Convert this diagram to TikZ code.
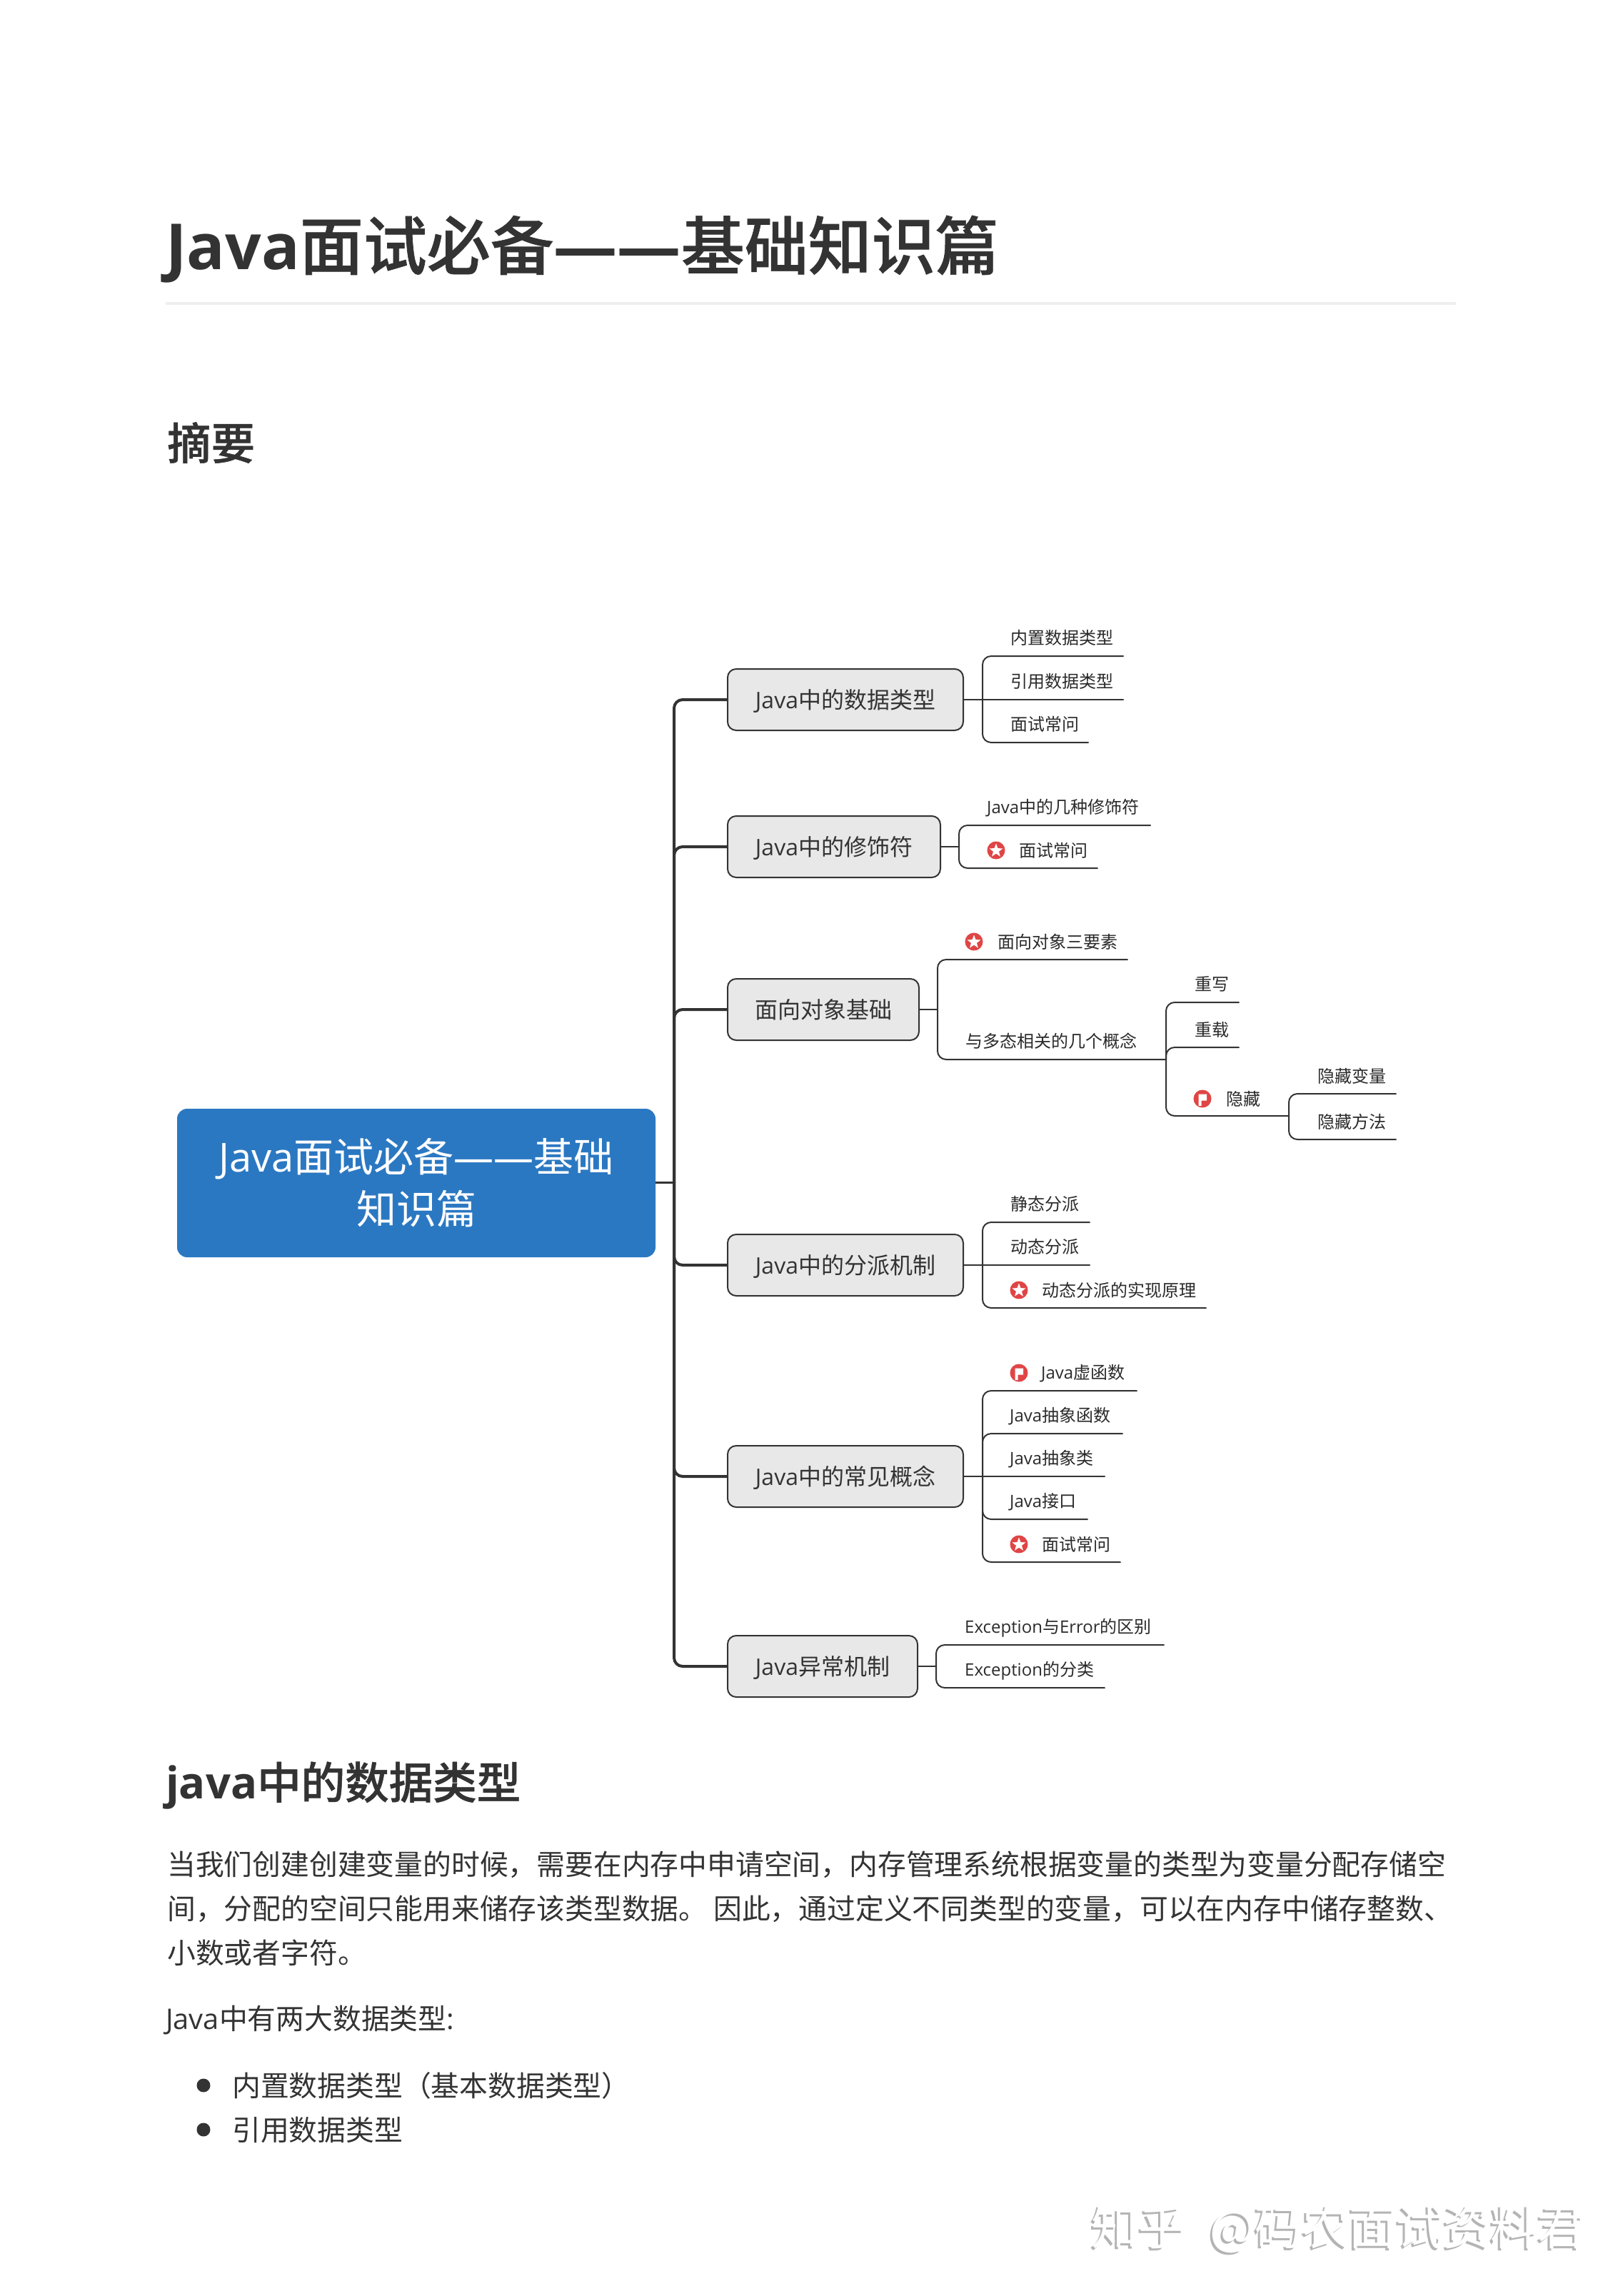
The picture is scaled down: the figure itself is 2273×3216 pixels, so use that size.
\documentclass[tikz,border=0pt]{standalone}
\usepackage{fontspec}
\usetikzlibrary{shapes.geometric}
\setmainfont{Open Sans}
\newfontfamily\cjk{Noto Sans CJK SC}[BoldFont={Noto Sans CJK SC Medium},BoldFeatures={FakeBold=0.8}]
\newcommand{\Z}[1]{{\cjk #1}}
\definecolor{ink}{HTML}{333333}
\definecolor{blk}{HTML}{2A2A2A}
\definecolor{rootblue}{HTML}{2B78C2}
\definecolor{boxgray}{HTML}{E8E8E8}
\definecolor{iconred}{HTML}{E04545}
\definecolor{rulegray}{HTML}{EEEEEE}
\definecolor{wmgray}{HTML}{B4B4B4}
\tikzset{
  x=1pt,y=-1pt,
  rootbox/.style={rectangle,rounded corners=14pt,fill=rootblue,text=white,minimum width=670pt,minimum height=208pt,inner sep=0pt,align=center,font=\fontsize{56}{73}\selectfont},
  topicbox/.style={rectangle,rounded corners=12pt,draw=ink,line width=2pt,fill=boxgray,text=ink,minimum height=86pt,inner sep=0pt,font=\fontsize{32}{38}\selectfont,text height=28pt,text depth=4pt},
  leaf/.style={anchor=west,inner sep=0pt,text=blk,font=\fontsize{24}{29}\selectfont,text height=21pt,text depth=3pt},
  spine/.style={draw=ink,line width=4pt,rounded corners=12pt},
  branch/.style={draw=ink,line width=2pt,rounded corners=12pt,line cap=round},
  stub/.style={draw=ink,line width=2pt},
  title/.style={anchor=west,inner sep=0pt,text=ink,font=\bfseries\fontsize{89}{100}\selectfont},
  heading/.style={anchor=west,inner sep=0pt,text=ink,font=\bfseries\fontsize{61.5}{70}\selectfont},
  bodytext/.style={anchor=west,inner sep=0pt,text=ink,font=\fontsize{39.8}{48}\selectfont,text height=35pt,text depth=5pt},
  bulletdot/.style={circle,fill=ink,inner sep=0pt,minimum size=19pt},
  staricon/.pic={
    \fill[iconred] (0,0) circle (12.5pt);
    \node[star,star points=5,star point ratio=2.4,fill=white,inner sep=0pt,minimum size=20pt] at (0,0.5) {};
  },
  flagicon/.pic={
    \fill[iconred] (0,0) circle (12.5pt);
    \fill[white] (-5.5,-6.5) -- (6,-6.5) -- (6,2.5) -- (-1.5,2.5) -- (-1.5,10) -- (-5.5,10) -- cycle;
  },
  wmark/.style={anchor=west,inner sep=0pt,font=\cjk\fontsize{66}{76}\selectfont},
}
\begin{document}
\begin{tikzpicture}
\useasboundingbox (0,0) rectangle (2273,3216);
% page texts
\node[title] (ttl) at (232,349) {Java\Z{面试必备}——\Z{基础知识篇}};
\fill[rulegray] (232,423) rectangle (2039,427);
\node[heading] (abs) at (234,620) {\Z{摘要}};
\node[heading] (h2) at (232,2501) {java\Z{中的数据类型}};
\node[bodytext] (p1) at (234,2611) {\Z{当我们创建创建变量的时候，需要在内存中申请空间，内存管理系统根据变量的类型为变量分配存储空}};
\node[bodytext] (p2) at (234,2673) {\Z{间，分配的空间只能用来储存该类型数据。 因此，通过定义不同类型的变量，可以在内存中储存整数、}};
\node[bodytext] (p3) at (234,2735) {\Z{小数或者字符。}};
\node[bodytext] (p4) at (232,2827) {Java\Z{中有两大数据类型}:};
\node[bulletdot] (d1) at (285,2921) {};
\node[bulletdot] (d2) at (285,2983) {};
\node[bodytext] (l1) at (325,2921) {\Z{内置数据类型（基本数据类型）}};
\node[bodytext] (l2) at (325,2983) {\Z{引用数据类型}};
\node[wmark,text=wmgray] (wms) at (1525,3125) {知乎\hspace{20pt} @码农面试资料君};
\node[wmark,text=white] (wmt) at (1528,3122) {知乎\hspace{20pt} @码农面试资料君};

% root and topics
\node[rootbox] (root) at (583,1657) {Java\Z{面试必备}——\Z{基础}\\\Z{知识篇}};
\node[topicbox,minimum width=330pt] (b1) at (1184,980) {Java\Z{中的数据类型}};
\node[topicbox,minimum width=298pt] (b2) at (1168,1186) {Java\Z{中的修饰符}};
\node[topicbox,minimum width=268pt] (b3) at (1153,1414) {\Z{面向对象基础}};
\node[topicbox,minimum width=330pt] (b4) at (1184,1772) {Java\Z{中的分派机制}};
\node[topicbox,minimum width=330pt] (b5) at (1184,2068) {Java\Z{中的常见概念}};
\node[topicbox,minimum width=266pt] (b6) at (1152,2334) {Java\Z{异常机制}};

\coordinate (rj) at (944,1656);
\draw[ink,line width=3pt] (root.east |- rj) -- (rj);
\foreach \t in {b1,b2,b3,b4,b5,b6}{\draw[spine] (rj) |- (\t.west);}

% junctions
\coordinate (j1) at (1376,980);
\coordinate (j2) at (1343,1186);
\coordinate (j3) at (1313,1414);
\coordinate (j3s) at (1633,1484);
\coordinate (j3h) at (1805,1563);
\coordinate (j4) at (1376,1772);
\coordinate (j5) at (1376,2068);
\coordinate (j6) at (1311,2334);
\draw[stub] (b1.east) -- (j1);
\draw[stub] (b2.east) -- (j2);
\draw[stub] (b3.east) -- (j3);
\draw[stub] (b4.east) -- (j4);
\draw[stub] (b5.east) -- (j5);
\draw[stub] (b6.east) -- (j6);

% group 1
\node[leaf] (a1) at (1415,893) {\Z{内置数据类型}};
\node[leaf] (a2) at (1415,954) {\Z{引用数据类型}};
\node[leaf] (a3) at (1415,1014) {\Z{面试常问}};
\coordinate (a1e) at (1573,919);
\coordinate (a2e) at (1573,980);
\coordinate (a3e) at (1524,1040);
\draw[branch] (j1) |- (a1e);
\draw[branch] (j1) -- (a2e);
\draw[branch] (j1) |- (a3e);

% group 2
\node[leaf] (c1) at (1382,1130) {Java\Z{中的几种修饰符}};
\pic at (1395,1191) {staricon};
\node[leaf] (c2) at (1427,1191) {\Z{面试常问}};
\coordinate (c1e) at (1611,1156);
\coordinate (c2e) at (1537,1216);
\draw[branch] (j2) |- (c1e);
\draw[branch] (j2) |- (c2e);

% group 3
\pic at (1364,1319) {staricon};
\node[leaf] (d1t) at (1397,1319) {\Z{面向对象三要素}};
\node[leaf] (d2t) at (1352,1458) {\Z{与多态相关的几个概念}};
\coordinate (d1e) at (1579,1344);
\draw[branch] (j3) |- (d1e);
\draw[branch] (j3) |- (j3s);
\node[leaf] (s1) at (1673,1378) {\Z{重写}};
\node[leaf] (s2) at (1673,1442) {\Z{重载}};
\pic at (1684,1539) {flagicon};
\node[leaf] (s3) at (1717,1539) {\Z{隐藏}};
\coordinate (s1e) at (1735,1404);
\coordinate (s2e) at (1735,1467);
\draw[branch] (j3s) |- (s1e);
\draw[branch] (j3s) |- (s2e);
\draw[branch] (j3s) |- (j3h);
\node[leaf] (h1) at (1845,1507) {\Z{隐藏变量}};
\node[leaf] (h2) at (1845,1571) {\Z{隐藏方法}};
\coordinate (h1e) at (1955,1532);
\coordinate (h2e) at (1955,1596);
\draw[branch] (j3h) |- (h1e);
\draw[branch] (j3h) |- (h2e);

% group 4
\node[leaf] (e1) at (1415,1686) {\Z{静态分派}};
\node[leaf] (e2) at (1415,1746) {\Z{动态分派}};
\pic at (1427,1807) {staricon};
\node[leaf] (e3) at (1459,1807) {\Z{动态分派的实现原理}};
\coordinate (e1e) at (1526,1712);
\coordinate (e2e) at (1526,1772);
\coordinate (e3e) at (1689,1832);
\draw[branch] (j4) |- (e1e);
\draw[branch] (j4) -- (e2e);
\draw[branch] (j4) |- (e3e);

% group 5
\pic at (1427,1923) {flagicon};
\node[leaf] (f1) at (1458,1922) {Java\Z{虚函数}};
\node[leaf] (f2) at (1414,1982) {Java\Z{抽象函数}};
\node[leaf] (f3) at (1414,2042) {Java\Z{抽象类}};
\node[leaf] (f4) at (1414,2102) {Java\Z{接口}};
\pic at (1427,2163) {staricon};
\node[leaf] (f5) at (1459,2163) {\Z{面试常问}};
\coordinate (f1e) at (1592,1948);
\coordinate (f2e) at (1572,2008);
\coordinate (f3e) at (1547,2068);
\coordinate (f4e) at (1523,2128);
\coordinate (f5e) at (1569,2188);
\draw[branch] (j5) |- (f1e);
\draw[branch] (j5) |- (f2e);
\draw[branch] (j5) -- (f3e);
\draw[branch] (j5) |- (f4e);
\draw[branch] (j5) |- (f5e);

% group 6
\node[leaf] (g1) at (1351,2278) {Exception\Z{与}Error\Z{的区别}};
\node[leaf] (g2) at (1351,2338) {Exception\Z{的分类}};
\coordinate (g1e) at (1630,2304);
\coordinate (g2e) at (1547,2364);
\draw[branch] (j6) |- (g1e);
\draw[branch] (j6) |- (g2e);
\end{tikzpicture}
\end{document}
